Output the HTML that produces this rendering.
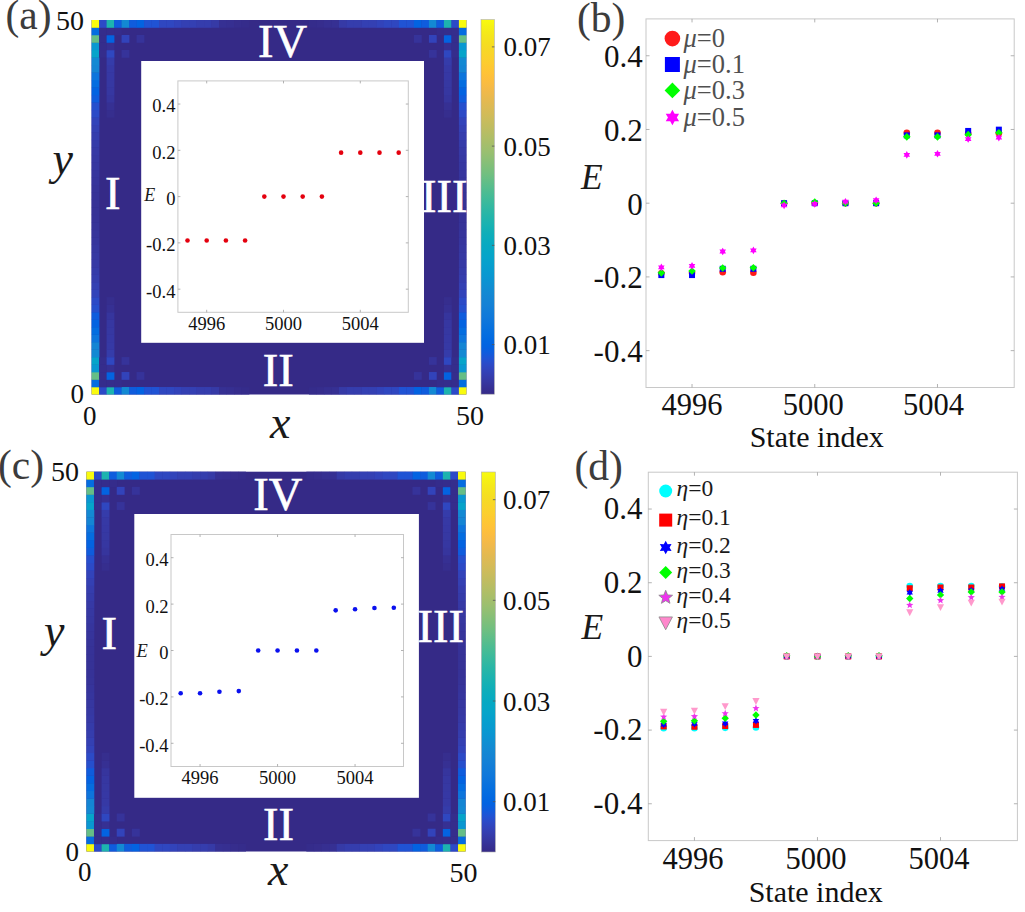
<!DOCTYPE html>
<html><head><meta charset="utf-8"><title>Figure</title>
<style>
html,body{margin:0;padding:0;background:#fff;}
body{width:1025px;height:912px;overflow:hidden;}
svg{display:block;}
text{font-family:"Liberation Serif",serif;}
.tk{fill:#111;}
.it{fill:#1a1a1a;font-style:italic;}
.wt{fill:#fff;stroke:#fff;stroke-width:0.6px;}
.pl{fill:#3c3c3c;}
.lg{fill:#505050;}
.lg2{fill:#1a1a1a;}
</style></head>
<body>
<svg width="1025" height="912" viewBox="0 0 1025 912">
<rect width="1025" height="912" fill="#fff"/>
<rect x="91.60" y="20.00" width="374.80" height="374.50" fill="#352a87"/>
<rect x="91.60" y="387.01" width="7.80" height="7.49" fill="#f9fb0e"/>
<rect x="99.10" y="387.01" width="7.80" height="7.49" fill="#2c4ac7"/>
<rect x="106.59" y="387.01" width="7.80" height="7.49" fill="#1db3af"/>
<rect x="114.09" y="387.01" width="7.80" height="7.49" fill="#0f5cdd"/>
<rect x="121.58" y="387.01" width="7.80" height="7.49" fill="#1389d3"/>
<rect x="129.08" y="387.01" width="7.80" height="7.49" fill="#0f5cdd"/>
<rect x="136.58" y="387.01" width="7.80" height="7.49" fill="#0363e1"/>
<rect x="144.07" y="387.01" width="7.80" height="7.49" fill="#2053d4"/>
<rect x="151.57" y="387.01" width="7.80" height="7.49" fill="#2053d4"/>
<rect x="159.06" y="387.01" width="7.80" height="7.49" fill="#2f47c0"/>
<rect x="166.56" y="387.01" width="7.80" height="7.49" fill="#2f47c0"/>
<rect x="174.06" y="387.01" width="7.80" height="7.49" fill="#3243ba"/>
<rect x="181.55" y="387.01" width="7.80" height="7.49" fill="#3440b3"/>
<rect x="189.05" y="387.01" width="7.80" height="7.49" fill="#3440b3"/>
<rect x="196.54" y="387.01" width="7.80" height="7.49" fill="#353dad"/>
<rect x="204.04" y="387.01" width="7.80" height="7.49" fill="#353dad"/>
<rect x="211.54" y="387.01" width="7.80" height="7.49" fill="#363aa6"/>
<rect x="219.03" y="387.01" width="7.80" height="7.49" fill="#363093"/>
<rect x="226.53" y="387.01" width="7.80" height="7.49" fill="#362f91"/>
<rect x="234.02" y="387.01" width="7.80" height="7.49" fill="#362d8d"/>
<rect x="241.52" y="387.01" width="7.80" height="7.49" fill="#352c8b"/>
<rect x="308.98" y="387.01" width="7.80" height="7.49" fill="#352c8b"/>
<rect x="316.48" y="387.01" width="7.80" height="7.49" fill="#362d8d"/>
<rect x="323.98" y="387.01" width="7.80" height="7.49" fill="#362f91"/>
<rect x="331.47" y="387.01" width="7.80" height="7.49" fill="#363093"/>
<rect x="338.97" y="387.01" width="7.80" height="7.49" fill="#363aa6"/>
<rect x="346.46" y="387.01" width="7.80" height="7.49" fill="#353dad"/>
<rect x="353.96" y="387.01" width="7.80" height="7.49" fill="#353dad"/>
<rect x="361.46" y="387.01" width="7.80" height="7.49" fill="#3440b3"/>
<rect x="368.95" y="387.01" width="7.80" height="7.49" fill="#3440b3"/>
<rect x="376.45" y="387.01" width="7.80" height="7.49" fill="#3243ba"/>
<rect x="383.94" y="387.01" width="7.80" height="7.49" fill="#2f47c0"/>
<rect x="391.44" y="387.01" width="7.80" height="7.49" fill="#2f47c0"/>
<rect x="398.94" y="387.01" width="7.80" height="7.49" fill="#2053d4"/>
<rect x="406.43" y="387.01" width="7.80" height="7.49" fill="#2053d4"/>
<rect x="413.93" y="387.01" width="7.80" height="7.49" fill="#0363e1"/>
<rect x="421.42" y="387.01" width="7.80" height="7.49" fill="#0f5cdd"/>
<rect x="428.92" y="387.01" width="7.80" height="7.49" fill="#1389d3"/>
<rect x="436.42" y="387.01" width="7.80" height="7.49" fill="#0f5cdd"/>
<rect x="443.91" y="387.01" width="7.80" height="7.49" fill="#1db3af"/>
<rect x="451.41" y="387.01" width="7.80" height="7.49" fill="#2c4ac7"/>
<rect x="458.90" y="387.01" width="7.50" height="7.49" fill="#f9fb0e"/>
<rect x="91.60" y="379.52" width="7.80" height="7.79" fill="#046de0"/>
<rect x="99.10" y="379.52" width="7.80" height="7.79" fill="#352d8c"/>
<rect x="106.59" y="379.52" width="7.80" height="7.79" fill="#352d8c"/>
<rect x="114.09" y="379.52" width="7.80" height="7.79" fill="#352c8b"/>
<rect x="436.42" y="379.52" width="7.80" height="7.79" fill="#352c8b"/>
<rect x="443.91" y="379.52" width="7.80" height="7.79" fill="#352d8c"/>
<rect x="451.41" y="379.52" width="7.80" height="7.79" fill="#352d8c"/>
<rect x="458.90" y="379.52" width="7.50" height="7.79" fill="#046de0"/>
<rect x="91.60" y="372.03" width="7.80" height="7.79" fill="#65be86"/>
<rect x="99.10" y="372.03" width="7.80" height="7.79" fill="#352d8c"/>
<rect x="106.59" y="372.03" width="7.80" height="7.79" fill="#0363e1"/>
<rect x="121.58" y="372.03" width="7.80" height="7.79" fill="#3243ba"/>
<rect x="136.58" y="372.03" width="7.80" height="7.79" fill="#36339a"/>
<rect x="413.93" y="372.03" width="7.80" height="7.79" fill="#36339a"/>
<rect x="428.92" y="372.03" width="7.80" height="7.79" fill="#3243ba"/>
<rect x="443.91" y="372.03" width="7.80" height="7.79" fill="#0363e1"/>
<rect x="451.41" y="372.03" width="7.80" height="7.79" fill="#352d8c"/>
<rect x="458.90" y="372.03" width="7.50" height="7.79" fill="#65be86"/>
<rect x="91.60" y="364.54" width="7.80" height="7.79" fill="#0998d1"/>
<rect x="99.10" y="364.54" width="7.80" height="7.79" fill="#352d8c"/>
<rect x="106.59" y="364.54" width="7.80" height="7.79" fill="#363093"/>
<rect x="443.91" y="364.54" width="7.80" height="7.79" fill="#363093"/>
<rect x="451.41" y="364.54" width="7.80" height="7.79" fill="#352d8c"/>
<rect x="458.90" y="364.54" width="7.50" height="7.79" fill="#0998d1"/>
<rect x="91.60" y="357.05" width="7.80" height="7.79" fill="#06a4ca"/>
<rect x="99.10" y="357.05" width="7.80" height="7.79" fill="#352d8c"/>
<rect x="106.59" y="357.05" width="7.80" height="7.79" fill="#2f47c0"/>
<rect x="121.58" y="357.05" width="7.80" height="7.79" fill="#36339a"/>
<rect x="428.92" y="357.05" width="7.80" height="7.79" fill="#36339a"/>
<rect x="443.91" y="357.05" width="7.80" height="7.79" fill="#2f47c0"/>
<rect x="451.41" y="357.05" width="7.80" height="7.79" fill="#352d8c"/>
<rect x="458.90" y="357.05" width="7.50" height="7.79" fill="#06a4ca"/>
<rect x="91.60" y="349.56" width="7.80" height="7.79" fill="#1389d3"/>
<rect x="106.59" y="349.56" width="7.80" height="7.79" fill="#353caa"/>
<rect x="443.91" y="349.56" width="7.80" height="7.79" fill="#353caa"/>
<rect x="458.90" y="349.56" width="7.50" height="7.79" fill="#1389d3"/>
<rect x="91.60" y="342.07" width="7.80" height="7.79" fill="#1485d4"/>
<rect x="106.59" y="342.07" width="7.80" height="7.79" fill="#3639a5"/>
<rect x="443.91" y="342.07" width="7.80" height="7.79" fill="#3639a5"/>
<rect x="458.90" y="342.07" width="7.50" height="7.79" fill="#1485d4"/>
<rect x="91.60" y="334.58" width="7.80" height="7.79" fill="#0d75dc"/>
<rect x="106.59" y="334.58" width="7.80" height="7.79" fill="#3638a4"/>
<rect x="443.91" y="334.58" width="7.80" height="7.79" fill="#3638a4"/>
<rect x="458.90" y="334.58" width="7.50" height="7.79" fill="#0d75dc"/>
<rect x="91.60" y="327.09" width="7.80" height="7.79" fill="#046de0"/>
<rect x="106.59" y="327.09" width="7.80" height="7.79" fill="#3638a2"/>
<rect x="443.91" y="327.09" width="7.80" height="7.79" fill="#3638a2"/>
<rect x="458.90" y="327.09" width="7.50" height="7.79" fill="#046de0"/>
<rect x="91.60" y="319.60" width="7.80" height="7.79" fill="#0363e1"/>
<rect x="106.59" y="319.60" width="7.80" height="7.79" fill="#3637a1"/>
<rect x="443.91" y="319.60" width="7.80" height="7.79" fill="#3637a1"/>
<rect x="458.90" y="319.60" width="7.50" height="7.79" fill="#0363e1"/>
<rect x="91.60" y="312.11" width="7.80" height="7.79" fill="#0f5cdd"/>
<rect x="106.59" y="312.11" width="7.80" height="7.79" fill="#36359d"/>
<rect x="443.91" y="312.11" width="7.80" height="7.79" fill="#36359d"/>
<rect x="458.90" y="312.11" width="7.50" height="7.79" fill="#0f5cdd"/>
<rect x="91.60" y="304.62" width="7.80" height="7.79" fill="#264fcd"/>
<rect x="106.59" y="304.62" width="7.80" height="7.79" fill="#363093"/>
<rect x="443.91" y="304.62" width="7.80" height="7.79" fill="#363093"/>
<rect x="458.90" y="304.62" width="7.50" height="7.79" fill="#264fcd"/>
<rect x="91.60" y="297.13" width="7.80" height="7.79" fill="#2c4ac7"/>
<rect x="106.59" y="297.13" width="7.80" height="7.79" fill="#362e8e"/>
<rect x="443.91" y="297.13" width="7.80" height="7.79" fill="#362e8e"/>
<rect x="458.90" y="297.13" width="7.50" height="7.79" fill="#2c4ac7"/>
<rect x="91.60" y="289.64" width="7.80" height="7.79" fill="#3243ba"/>
<rect x="458.90" y="289.64" width="7.50" height="7.79" fill="#3243ba"/>
<rect x="91.60" y="282.15" width="7.80" height="7.79" fill="#3440b3"/>
<rect x="458.90" y="282.15" width="7.50" height="7.79" fill="#3440b3"/>
<rect x="91.60" y="274.66" width="7.80" height="7.79" fill="#353dad"/>
<rect x="458.90" y="274.66" width="7.50" height="7.79" fill="#353dad"/>
<rect x="91.60" y="267.17" width="7.80" height="7.79" fill="#353ba9"/>
<rect x="458.90" y="267.17" width="7.50" height="7.79" fill="#353ba9"/>
<rect x="91.60" y="259.68" width="7.80" height="7.79" fill="#3639a5"/>
<rect x="458.90" y="259.68" width="7.50" height="7.79" fill="#3639a5"/>
<rect x="91.60" y="252.19" width="7.80" height="7.79" fill="#3638a2"/>
<rect x="458.90" y="252.19" width="7.50" height="7.79" fill="#3638a2"/>
<rect x="91.60" y="244.70" width="7.80" height="7.79" fill="#3637a0"/>
<rect x="458.90" y="244.70" width="7.50" height="7.79" fill="#3637a0"/>
<rect x="91.60" y="237.21" width="7.80" height="7.79" fill="#36359d"/>
<rect x="458.90" y="237.21" width="7.50" height="7.79" fill="#36359d"/>
<rect x="91.60" y="229.72" width="7.80" height="7.79" fill="#36349b"/>
<rect x="458.90" y="229.72" width="7.50" height="7.79" fill="#36349b"/>
<rect x="91.60" y="222.23" width="7.80" height="7.79" fill="#363398"/>
<rect x="458.90" y="222.23" width="7.50" height="7.79" fill="#363398"/>
<rect x="91.60" y="214.74" width="7.80" height="7.79" fill="#363297"/>
<rect x="458.90" y="214.74" width="7.50" height="7.79" fill="#363297"/>
<rect x="91.60" y="207.25" width="7.80" height="7.79" fill="#363296"/>
<rect x="458.90" y="207.25" width="7.50" height="7.79" fill="#363296"/>
<rect x="91.60" y="199.76" width="7.80" height="7.79" fill="#363296"/>
<rect x="458.90" y="199.76" width="7.50" height="7.79" fill="#363296"/>
<rect x="91.60" y="192.27" width="7.80" height="7.79" fill="#363297"/>
<rect x="458.90" y="192.27" width="7.50" height="7.79" fill="#363297"/>
<rect x="91.60" y="184.78" width="7.80" height="7.79" fill="#363398"/>
<rect x="458.90" y="184.78" width="7.50" height="7.79" fill="#363398"/>
<rect x="91.60" y="177.29" width="7.80" height="7.79" fill="#36349b"/>
<rect x="458.90" y="177.29" width="7.50" height="7.79" fill="#36349b"/>
<rect x="91.60" y="169.80" width="7.80" height="7.79" fill="#36359d"/>
<rect x="458.90" y="169.80" width="7.50" height="7.79" fill="#36359d"/>
<rect x="91.60" y="162.31" width="7.80" height="7.79" fill="#3637a0"/>
<rect x="458.90" y="162.31" width="7.50" height="7.79" fill="#3637a0"/>
<rect x="91.60" y="154.82" width="7.80" height="7.79" fill="#3638a2"/>
<rect x="458.90" y="154.82" width="7.50" height="7.79" fill="#3638a2"/>
<rect x="91.60" y="147.33" width="7.80" height="7.79" fill="#3639a5"/>
<rect x="458.90" y="147.33" width="7.50" height="7.79" fill="#3639a5"/>
<rect x="91.60" y="139.84" width="7.80" height="7.79" fill="#353ba9"/>
<rect x="458.90" y="139.84" width="7.50" height="7.79" fill="#353ba9"/>
<rect x="91.60" y="132.35" width="7.80" height="7.79" fill="#353dad"/>
<rect x="458.90" y="132.35" width="7.50" height="7.79" fill="#353dad"/>
<rect x="91.60" y="124.86" width="7.80" height="7.79" fill="#3440b3"/>
<rect x="458.90" y="124.86" width="7.50" height="7.79" fill="#3440b3"/>
<rect x="91.60" y="117.37" width="7.80" height="7.79" fill="#3243ba"/>
<rect x="458.90" y="117.37" width="7.50" height="7.79" fill="#3243ba"/>
<rect x="91.60" y="109.88" width="7.80" height="7.79" fill="#2c4ac7"/>
<rect x="106.59" y="109.88" width="7.80" height="7.79" fill="#362e8e"/>
<rect x="443.91" y="109.88" width="7.80" height="7.79" fill="#362e8e"/>
<rect x="458.90" y="109.88" width="7.50" height="7.79" fill="#2c4ac7"/>
<rect x="91.60" y="102.39" width="7.80" height="7.79" fill="#264fcd"/>
<rect x="106.59" y="102.39" width="7.80" height="7.79" fill="#363093"/>
<rect x="443.91" y="102.39" width="7.80" height="7.79" fill="#363093"/>
<rect x="458.90" y="102.39" width="7.50" height="7.79" fill="#264fcd"/>
<rect x="91.60" y="94.90" width="7.80" height="7.79" fill="#0f5cdd"/>
<rect x="106.59" y="94.90" width="7.80" height="7.79" fill="#36359d"/>
<rect x="443.91" y="94.90" width="7.80" height="7.79" fill="#36359d"/>
<rect x="458.90" y="94.90" width="7.50" height="7.79" fill="#0f5cdd"/>
<rect x="91.60" y="87.41" width="7.80" height="7.79" fill="#0363e1"/>
<rect x="106.59" y="87.41" width="7.80" height="7.79" fill="#3637a1"/>
<rect x="443.91" y="87.41" width="7.80" height="7.79" fill="#3637a1"/>
<rect x="458.90" y="87.41" width="7.50" height="7.79" fill="#0363e1"/>
<rect x="91.60" y="79.92" width="7.80" height="7.79" fill="#046de0"/>
<rect x="106.59" y="79.92" width="7.80" height="7.79" fill="#3638a2"/>
<rect x="443.91" y="79.92" width="7.80" height="7.79" fill="#3638a2"/>
<rect x="458.90" y="79.92" width="7.50" height="7.79" fill="#046de0"/>
<rect x="91.60" y="72.43" width="7.80" height="7.79" fill="#0d75dc"/>
<rect x="106.59" y="72.43" width="7.80" height="7.79" fill="#3638a4"/>
<rect x="443.91" y="72.43" width="7.80" height="7.79" fill="#3638a4"/>
<rect x="458.90" y="72.43" width="7.50" height="7.79" fill="#0d75dc"/>
<rect x="91.60" y="64.94" width="7.80" height="7.79" fill="#1485d4"/>
<rect x="106.59" y="64.94" width="7.80" height="7.79" fill="#3639a5"/>
<rect x="443.91" y="64.94" width="7.80" height="7.79" fill="#3639a5"/>
<rect x="458.90" y="64.94" width="7.50" height="7.79" fill="#1485d4"/>
<rect x="91.60" y="57.45" width="7.80" height="7.79" fill="#1389d3"/>
<rect x="106.59" y="57.45" width="7.80" height="7.79" fill="#353caa"/>
<rect x="443.91" y="57.45" width="7.80" height="7.79" fill="#353caa"/>
<rect x="458.90" y="57.45" width="7.50" height="7.79" fill="#1389d3"/>
<rect x="91.60" y="49.96" width="7.80" height="7.79" fill="#06a4ca"/>
<rect x="99.10" y="49.96" width="7.80" height="7.79" fill="#352d8c"/>
<rect x="106.59" y="49.96" width="7.80" height="7.79" fill="#2f47c0"/>
<rect x="121.58" y="49.96" width="7.80" height="7.79" fill="#36339a"/>
<rect x="428.92" y="49.96" width="7.80" height="7.79" fill="#36339a"/>
<rect x="443.91" y="49.96" width="7.80" height="7.79" fill="#2f47c0"/>
<rect x="451.41" y="49.96" width="7.80" height="7.79" fill="#352d8c"/>
<rect x="458.90" y="49.96" width="7.50" height="7.79" fill="#06a4ca"/>
<rect x="91.60" y="42.47" width="7.80" height="7.79" fill="#0998d1"/>
<rect x="99.10" y="42.47" width="7.80" height="7.79" fill="#352d8c"/>
<rect x="106.59" y="42.47" width="7.80" height="7.79" fill="#363093"/>
<rect x="443.91" y="42.47" width="7.80" height="7.79" fill="#363093"/>
<rect x="451.41" y="42.47" width="7.80" height="7.79" fill="#352d8c"/>
<rect x="458.90" y="42.47" width="7.50" height="7.79" fill="#0998d1"/>
<rect x="91.60" y="34.98" width="7.80" height="7.79" fill="#65be86"/>
<rect x="99.10" y="34.98" width="7.80" height="7.79" fill="#352d8c"/>
<rect x="106.59" y="34.98" width="7.80" height="7.79" fill="#0363e1"/>
<rect x="121.58" y="34.98" width="7.80" height="7.79" fill="#3243ba"/>
<rect x="136.58" y="34.98" width="7.80" height="7.79" fill="#36339a"/>
<rect x="413.93" y="34.98" width="7.80" height="7.79" fill="#36339a"/>
<rect x="428.92" y="34.98" width="7.80" height="7.79" fill="#3243ba"/>
<rect x="443.91" y="34.98" width="7.80" height="7.79" fill="#0363e1"/>
<rect x="451.41" y="34.98" width="7.80" height="7.79" fill="#352d8c"/>
<rect x="458.90" y="34.98" width="7.50" height="7.79" fill="#65be86"/>
<rect x="91.60" y="27.49" width="7.80" height="7.79" fill="#046de0"/>
<rect x="99.10" y="27.49" width="7.80" height="7.79" fill="#352d8c"/>
<rect x="106.59" y="27.49" width="7.80" height="7.79" fill="#352d8c"/>
<rect x="114.09" y="27.49" width="7.80" height="7.79" fill="#352c8b"/>
<rect x="436.42" y="27.49" width="7.80" height="7.79" fill="#352c8b"/>
<rect x="443.91" y="27.49" width="7.80" height="7.79" fill="#352d8c"/>
<rect x="451.41" y="27.49" width="7.80" height="7.79" fill="#352d8c"/>
<rect x="458.90" y="27.49" width="7.50" height="7.79" fill="#046de0"/>
<rect x="91.60" y="20.00" width="7.80" height="7.79" fill="#f9fb0e"/>
<rect x="99.10" y="20.00" width="7.80" height="7.79" fill="#2c4ac7"/>
<rect x="106.59" y="20.00" width="7.80" height="7.79" fill="#1db3af"/>
<rect x="114.09" y="20.00" width="7.80" height="7.79" fill="#0f5cdd"/>
<rect x="121.58" y="20.00" width="7.80" height="7.79" fill="#1389d3"/>
<rect x="129.08" y="20.00" width="7.80" height="7.79" fill="#0f5cdd"/>
<rect x="136.58" y="20.00" width="7.80" height="7.79" fill="#0363e1"/>
<rect x="144.07" y="20.00" width="7.80" height="7.79" fill="#2053d4"/>
<rect x="151.57" y="20.00" width="7.80" height="7.79" fill="#2053d4"/>
<rect x="159.06" y="20.00" width="7.80" height="7.79" fill="#2f47c0"/>
<rect x="166.56" y="20.00" width="7.80" height="7.79" fill="#2f47c0"/>
<rect x="174.06" y="20.00" width="7.80" height="7.79" fill="#3243ba"/>
<rect x="181.55" y="20.00" width="7.80" height="7.79" fill="#3440b3"/>
<rect x="189.05" y="20.00" width="7.80" height="7.79" fill="#3440b3"/>
<rect x="196.54" y="20.00" width="7.80" height="7.79" fill="#353dad"/>
<rect x="204.04" y="20.00" width="7.80" height="7.79" fill="#353dad"/>
<rect x="211.54" y="20.00" width="7.80" height="7.79" fill="#363aa6"/>
<rect x="219.03" y="20.00" width="7.80" height="7.79" fill="#363093"/>
<rect x="226.53" y="20.00" width="7.80" height="7.79" fill="#362f91"/>
<rect x="234.02" y="20.00" width="7.80" height="7.79" fill="#362d8d"/>
<rect x="241.52" y="20.00" width="7.80" height="7.79" fill="#352c8b"/>
<rect x="308.98" y="20.00" width="7.80" height="7.79" fill="#352c8b"/>
<rect x="316.48" y="20.00" width="7.80" height="7.79" fill="#362d8d"/>
<rect x="323.98" y="20.00" width="7.80" height="7.79" fill="#362f91"/>
<rect x="331.47" y="20.00" width="7.80" height="7.79" fill="#363093"/>
<rect x="338.97" y="20.00" width="7.80" height="7.79" fill="#363aa6"/>
<rect x="346.46" y="20.00" width="7.80" height="7.79" fill="#353dad"/>
<rect x="353.96" y="20.00" width="7.80" height="7.79" fill="#353dad"/>
<rect x="361.46" y="20.00" width="7.80" height="7.79" fill="#3440b3"/>
<rect x="368.95" y="20.00" width="7.80" height="7.79" fill="#3440b3"/>
<rect x="376.45" y="20.00" width="7.80" height="7.79" fill="#3243ba"/>
<rect x="383.94" y="20.00" width="7.80" height="7.79" fill="#2f47c0"/>
<rect x="391.44" y="20.00" width="7.80" height="7.79" fill="#2f47c0"/>
<rect x="398.94" y="20.00" width="7.80" height="7.79" fill="#2053d4"/>
<rect x="406.43" y="20.00" width="7.80" height="7.79" fill="#2053d4"/>
<rect x="413.93" y="20.00" width="7.80" height="7.79" fill="#0363e1"/>
<rect x="421.42" y="20.00" width="7.80" height="7.79" fill="#0f5cdd"/>
<rect x="428.92" y="20.00" width="7.80" height="7.79" fill="#1389d3"/>
<rect x="436.42" y="20.00" width="7.80" height="7.79" fill="#0f5cdd"/>
<rect x="443.91" y="20.00" width="7.80" height="7.79" fill="#1db3af"/>
<rect x="451.41" y="20.00" width="7.80" height="7.79" fill="#2c4ac7"/>
<rect x="458.90" y="20.00" width="7.50" height="7.79" fill="#f9fb0e"/>
<rect x="141.2" y="61.0" width="282.8" height="281.8" fill="#fff"/>
<rect x="177.90" y="80.90" width="230.40" height="231.40" fill="#fff" stroke="#c8c8c8" stroke-width="1"/>
<line x1="206.70" y1="312.30" x2="206.70" y2="309.80" stroke="#a0a0a0" stroke-width="0.8"/>
<line x1="206.70" y1="80.90" x2="206.70" y2="83.40" stroke="#a0a0a0" stroke-width="0.8"/>
<line x1="283.50" y1="312.30" x2="283.50" y2="309.80" stroke="#a0a0a0" stroke-width="0.8"/>
<line x1="283.50" y1="80.90" x2="283.50" y2="83.40" stroke="#a0a0a0" stroke-width="0.8"/>
<line x1="360.30" y1="312.30" x2="360.30" y2="309.80" stroke="#a0a0a0" stroke-width="0.8"/>
<line x1="360.30" y1="80.90" x2="360.30" y2="83.40" stroke="#a0a0a0" stroke-width="0.8"/>
<line x1="177.90" y1="289.16" x2="180.40" y2="289.16" stroke="#a0a0a0" stroke-width="0.8"/>
<line x1="408.30" y1="289.16" x2="405.80" y2="289.16" stroke="#a0a0a0" stroke-width="0.8"/>
<line x1="177.90" y1="242.88" x2="180.40" y2="242.88" stroke="#a0a0a0" stroke-width="0.8"/>
<line x1="408.30" y1="242.88" x2="405.80" y2="242.88" stroke="#a0a0a0" stroke-width="0.8"/>
<line x1="177.90" y1="196.60" x2="180.40" y2="196.60" stroke="#a0a0a0" stroke-width="0.8"/>
<line x1="408.30" y1="196.60" x2="405.80" y2="196.60" stroke="#a0a0a0" stroke-width="0.8"/>
<line x1="177.90" y1="150.32" x2="180.40" y2="150.32" stroke="#a0a0a0" stroke-width="0.8"/>
<line x1="408.30" y1="150.32" x2="405.80" y2="150.32" stroke="#a0a0a0" stroke-width="0.8"/>
<line x1="177.90" y1="104.04" x2="180.40" y2="104.04" stroke="#a0a0a0" stroke-width="0.8"/>
<line x1="408.30" y1="104.04" x2="405.80" y2="104.04" stroke="#a0a0a0" stroke-width="0.8"/>
<text x="175.40" y="112.44" class="tk" font-size="18.5" text-anchor="end">0.4</text>
<text x="175.40" y="158.72" class="tk" font-size="18.5" text-anchor="end">0.2</text>
<text x="175.40" y="205.00" class="tk" font-size="18.5" text-anchor="end">0</text>
<text x="175.40" y="251.28" class="tk" font-size="18.5" text-anchor="end">-0.2</text>
<text x="175.40" y="297.56" class="tk" font-size="18.5" text-anchor="end">-0.4</text>
<text x="206.70" y="329.50" class="tk" font-size="18.5" text-anchor="middle">4996</text>
<text x="283.50" y="329.50" class="tk" font-size="18.5" text-anchor="middle">5000</text>
<text x="360.30" y="329.50" class="tk" font-size="18.5" text-anchor="middle">5004</text>
<text x="144.3" y="200.6" class="it" font-size="18">E</text>
<circle cx="187.50" cy="240.57" r="2.30" fill="#e4000e"/>
<circle cx="206.70" cy="240.57" r="2.30" fill="#e4000e"/>
<circle cx="225.90" cy="240.57" r="2.30" fill="#e4000e"/>
<circle cx="245.10" cy="240.57" r="2.30" fill="#e4000e"/>
<circle cx="264.30" cy="196.60" r="2.30" fill="#e4000e"/>
<circle cx="283.50" cy="196.60" r="2.30" fill="#e4000e"/>
<circle cx="302.70" cy="196.60" r="2.30" fill="#e4000e"/>
<circle cx="321.90" cy="196.60" r="2.30" fill="#e4000e"/>
<circle cx="341.10" cy="152.63" r="2.30" fill="#e4000e"/>
<circle cx="360.30" cy="152.63" r="2.30" fill="#e4000e"/>
<circle cx="379.50" cy="152.63" r="2.30" fill="#e4000e"/>
<circle cx="398.70" cy="152.63" r="2.30" fill="#e4000e"/>
<defs><linearGradient id="cba" x1="0" y1="0" x2="0" y2="1"><stop offset="0.0000" stop-color="#f9fb0e"/><stop offset="0.0159" stop-color="#f6f313"/><stop offset="0.0317" stop-color="#f5eb18"/><stop offset="0.0476" stop-color="#f5e41d"/><stop offset="0.0635" stop-color="#f5de21"/><stop offset="0.0794" stop-color="#f7d826"/><stop offset="0.0952" stop-color="#fad32a"/><stop offset="0.1111" stop-color="#fcce2e"/><stop offset="0.1270" stop-color="#fec832"/><stop offset="0.1429" stop-color="#ffc337"/><stop offset="0.1587" stop-color="#fdbe3d"/><stop offset="0.1746" stop-color="#f8bb44"/><stop offset="0.1905" stop-color="#f1b94a"/><stop offset="0.2063" stop-color="#e9b94e"/><stop offset="0.2222" stop-color="#e1b952"/><stop offset="0.2381" stop-color="#d9ba56"/><stop offset="0.2540" stop-color="#d1bb59"/><stop offset="0.2698" stop-color="#c8bc5d"/><stop offset="0.2857" stop-color="#c0bc60"/><stop offset="0.3016" stop-color="#b7bd64"/><stop offset="0.3175" stop-color="#aebe67"/><stop offset="0.3333" stop-color="#a5be6b"/><stop offset="0.3492" stop-color="#9cbf6f"/><stop offset="0.3651" stop-color="#92bf73"/><stop offset="0.3810" stop-color="#87bf77"/><stop offset="0.3968" stop-color="#7cbf7b"/><stop offset="0.4127" stop-color="#71bf80"/><stop offset="0.4286" stop-color="#65be86"/><stop offset="0.4444" stop-color="#59bd8c"/><stop offset="0.4603" stop-color="#4dbc92"/><stop offset="0.4762" stop-color="#42bb98"/><stop offset="0.4921" stop-color="#38b99e"/><stop offset="0.5079" stop-color="#2eb7a4"/><stop offset="0.5238" stop-color="#25b5a9"/><stop offset="0.5397" stop-color="#1db3af"/><stop offset="0.5556" stop-color="#15b1b4"/><stop offset="0.5714" stop-color="#0faeb9"/><stop offset="0.5873" stop-color="#0aacbe"/><stop offset="0.6032" stop-color="#07a9c2"/><stop offset="0.6190" stop-color="#06a7c6"/><stop offset="0.6349" stop-color="#06a4ca"/><stop offset="0.6508" stop-color="#06a0cd"/><stop offset="0.6667" stop-color="#079ccf"/><stop offset="0.6825" stop-color="#0998d1"/><stop offset="0.6984" stop-color="#0c93d2"/><stop offset="0.7143" stop-color="#108ed2"/><stop offset="0.7302" stop-color="#1389d3"/><stop offset="0.7460" stop-color="#1485d4"/><stop offset="0.7619" stop-color="#1481d6"/><stop offset="0.7778" stop-color="#127dd8"/><stop offset="0.7937" stop-color="#1079da"/><stop offset="0.8095" stop-color="#0d75dc"/><stop offset="0.8254" stop-color="#0871de"/><stop offset="0.8413" stop-color="#046de0"/><stop offset="0.8571" stop-color="#0268e1"/><stop offset="0.8730" stop-color="#0363e1"/><stop offset="0.8889" stop-color="#0f5cdd"/><stop offset="0.9048" stop-color="#2053d4"/><stop offset="0.9206" stop-color="#2c4ac7"/><stop offset="0.9365" stop-color="#3243ba"/><stop offset="0.9524" stop-color="#353dad"/><stop offset="0.9683" stop-color="#3637a0"/><stop offset="0.9841" stop-color="#363093"/><stop offset="1.0000" stop-color="#352a87"/></linearGradient></defs>
<rect x="481.00" y="19.60" width="13.40" height="374.60" fill="url(#cba)" stroke="#b0b0b0" stroke-width="0.6"/>
<line x1="491.90" y1="344.58" x2="494.40" y2="344.58" stroke="#555" stroke-width="0.8"/>
<text x="503.50" y="354.18" class="tk" font-size="27">0.01</text>
<line x1="491.90" y1="245.35" x2="494.40" y2="245.35" stroke="#555" stroke-width="0.8"/>
<text x="503.50" y="254.95" class="tk" font-size="27">0.03</text>
<line x1="491.90" y1="146.12" x2="494.40" y2="146.12" stroke="#555" stroke-width="0.8"/>
<text x="503.50" y="155.72" class="tk" font-size="27">0.05</text>
<line x1="491.90" y1="46.89" x2="494.40" y2="46.89" stroke="#555" stroke-width="0.8"/>
<text x="503.50" y="56.49" class="tk" font-size="27">0.07</text>
<text x="258" y="57" class="wt" font-size="46.5">IV</text>
<text x="105" y="209.3" class="wt" font-size="46.5">I</text>
<text x="421" y="211.6" class="wt" font-size="46.5">III</text>
<text x="262.8" y="385.8" class="wt" font-size="46.5">II</text>
<text x="5.5" y="28.5" class="pl" font-size="41.5">(a)</text>
<text x="56" y="30.2" class="tk" font-size="28">50</text>
<text x="70.5" y="403" class="tk" font-size="27">0</text>
<text x="83" y="425" class="tk" font-size="27">0</text>
<text x="456" y="425.3" class="tk" font-size="28">50</text>
<text x="52.5" y="174" class="it" font-size="46">y</text>
<text x="270" y="438" class="it" font-size="46">x</text>
<rect x="86.40" y="471.70" width="379.20" height="379.80" fill="#352a87"/>
<rect x="86.40" y="843.90" width="7.88" height="7.60" fill="#f9fb0e"/>
<rect x="93.98" y="843.90" width="7.88" height="7.60" fill="#2c4ac7"/>
<rect x="101.57" y="843.90" width="7.88" height="7.60" fill="#1db3af"/>
<rect x="109.15" y="843.90" width="7.88" height="7.60" fill="#0f5cdd"/>
<rect x="116.74" y="843.90" width="7.88" height="7.60" fill="#1389d3"/>
<rect x="124.32" y="843.90" width="7.88" height="7.60" fill="#0f5cdd"/>
<rect x="131.90" y="843.90" width="7.88" height="7.60" fill="#0363e1"/>
<rect x="139.49" y="843.90" width="7.88" height="7.60" fill="#2053d4"/>
<rect x="147.07" y="843.90" width="7.88" height="7.60" fill="#2053d4"/>
<rect x="154.66" y="843.90" width="7.88" height="7.60" fill="#2f47c0"/>
<rect x="162.24" y="843.90" width="7.88" height="7.60" fill="#2f47c0"/>
<rect x="169.82" y="843.90" width="7.88" height="7.60" fill="#3243ba"/>
<rect x="177.41" y="843.90" width="7.88" height="7.60" fill="#3440b3"/>
<rect x="184.99" y="843.90" width="7.88" height="7.60" fill="#3440b3"/>
<rect x="192.58" y="843.90" width="7.88" height="7.60" fill="#353dad"/>
<rect x="200.16" y="843.90" width="7.88" height="7.60" fill="#353dad"/>
<rect x="207.74" y="843.90" width="7.88" height="7.60" fill="#363aa6"/>
<rect x="215.33" y="843.90" width="7.88" height="7.60" fill="#363093"/>
<rect x="222.91" y="843.90" width="7.88" height="7.60" fill="#362f91"/>
<rect x="230.50" y="843.90" width="7.88" height="7.60" fill="#362d8d"/>
<rect x="238.08" y="843.90" width="7.88" height="7.60" fill="#352c8b"/>
<rect x="306.34" y="843.90" width="7.88" height="7.60" fill="#352c8b"/>
<rect x="313.92" y="843.90" width="7.88" height="7.60" fill="#362d8d"/>
<rect x="321.50" y="843.90" width="7.88" height="7.60" fill="#362f91"/>
<rect x="329.09" y="843.90" width="7.88" height="7.60" fill="#363093"/>
<rect x="336.67" y="843.90" width="7.88" height="7.60" fill="#363aa6"/>
<rect x="344.26" y="843.90" width="7.88" height="7.60" fill="#353dad"/>
<rect x="351.84" y="843.90" width="7.88" height="7.60" fill="#353dad"/>
<rect x="359.42" y="843.90" width="7.88" height="7.60" fill="#3440b3"/>
<rect x="367.01" y="843.90" width="7.88" height="7.60" fill="#3440b3"/>
<rect x="374.59" y="843.90" width="7.88" height="7.60" fill="#3243ba"/>
<rect x="382.18" y="843.90" width="7.88" height="7.60" fill="#2f47c0"/>
<rect x="389.76" y="843.90" width="7.88" height="7.60" fill="#2f47c0"/>
<rect x="397.34" y="843.90" width="7.88" height="7.60" fill="#2053d4"/>
<rect x="404.93" y="843.90" width="7.88" height="7.60" fill="#2053d4"/>
<rect x="412.51" y="843.90" width="7.88" height="7.60" fill="#0363e1"/>
<rect x="420.10" y="843.90" width="7.88" height="7.60" fill="#0f5cdd"/>
<rect x="427.68" y="843.90" width="7.88" height="7.60" fill="#1389d3"/>
<rect x="435.26" y="843.90" width="7.88" height="7.60" fill="#0f5cdd"/>
<rect x="442.85" y="843.90" width="7.88" height="7.60" fill="#1db3af"/>
<rect x="450.43" y="843.90" width="7.88" height="7.60" fill="#2c4ac7"/>
<rect x="458.02" y="843.90" width="7.58" height="7.60" fill="#f9fb0e"/>
<rect x="86.40" y="836.31" width="7.88" height="7.90" fill="#046de0"/>
<rect x="93.98" y="836.31" width="7.88" height="7.90" fill="#352d8c"/>
<rect x="101.57" y="836.31" width="7.88" height="7.90" fill="#352d8c"/>
<rect x="109.15" y="836.31" width="7.88" height="7.90" fill="#352c8b"/>
<rect x="435.26" y="836.31" width="7.88" height="7.90" fill="#352c8b"/>
<rect x="442.85" y="836.31" width="7.88" height="7.90" fill="#352d8c"/>
<rect x="450.43" y="836.31" width="7.88" height="7.90" fill="#352d8c"/>
<rect x="458.02" y="836.31" width="7.58" height="7.90" fill="#046de0"/>
<rect x="86.40" y="828.71" width="7.88" height="7.90" fill="#65be86"/>
<rect x="93.98" y="828.71" width="7.88" height="7.90" fill="#352d8c"/>
<rect x="101.57" y="828.71" width="7.88" height="7.90" fill="#0363e1"/>
<rect x="116.74" y="828.71" width="7.88" height="7.90" fill="#3243ba"/>
<rect x="131.90" y="828.71" width="7.88" height="7.90" fill="#36339a"/>
<rect x="412.51" y="828.71" width="7.88" height="7.90" fill="#36339a"/>
<rect x="427.68" y="828.71" width="7.88" height="7.90" fill="#3243ba"/>
<rect x="442.85" y="828.71" width="7.88" height="7.90" fill="#0363e1"/>
<rect x="450.43" y="828.71" width="7.88" height="7.90" fill="#352d8c"/>
<rect x="458.02" y="828.71" width="7.58" height="7.90" fill="#65be86"/>
<rect x="86.40" y="821.12" width="7.88" height="7.90" fill="#0998d1"/>
<rect x="93.98" y="821.12" width="7.88" height="7.90" fill="#352d8c"/>
<rect x="101.57" y="821.12" width="7.88" height="7.90" fill="#363093"/>
<rect x="442.85" y="821.12" width="7.88" height="7.90" fill="#363093"/>
<rect x="450.43" y="821.12" width="7.88" height="7.90" fill="#352d8c"/>
<rect x="458.02" y="821.12" width="7.58" height="7.90" fill="#0998d1"/>
<rect x="86.40" y="813.52" width="7.88" height="7.90" fill="#06a4ca"/>
<rect x="93.98" y="813.52" width="7.88" height="7.90" fill="#352d8c"/>
<rect x="101.57" y="813.52" width="7.88" height="7.90" fill="#2f47c0"/>
<rect x="116.74" y="813.52" width="7.88" height="7.90" fill="#36339a"/>
<rect x="427.68" y="813.52" width="7.88" height="7.90" fill="#36339a"/>
<rect x="442.85" y="813.52" width="7.88" height="7.90" fill="#2f47c0"/>
<rect x="450.43" y="813.52" width="7.88" height="7.90" fill="#352d8c"/>
<rect x="458.02" y="813.52" width="7.58" height="7.90" fill="#06a4ca"/>
<rect x="86.40" y="805.92" width="7.88" height="7.90" fill="#1389d3"/>
<rect x="101.57" y="805.92" width="7.88" height="7.90" fill="#353caa"/>
<rect x="442.85" y="805.92" width="7.88" height="7.90" fill="#353caa"/>
<rect x="458.02" y="805.92" width="7.58" height="7.90" fill="#1389d3"/>
<rect x="86.40" y="798.33" width="7.88" height="7.90" fill="#1485d4"/>
<rect x="101.57" y="798.33" width="7.88" height="7.90" fill="#3639a5"/>
<rect x="442.85" y="798.33" width="7.88" height="7.90" fill="#3639a5"/>
<rect x="458.02" y="798.33" width="7.58" height="7.90" fill="#1485d4"/>
<rect x="86.40" y="790.73" width="7.88" height="7.90" fill="#0d75dc"/>
<rect x="101.57" y="790.73" width="7.88" height="7.90" fill="#3638a4"/>
<rect x="442.85" y="790.73" width="7.88" height="7.90" fill="#3638a4"/>
<rect x="458.02" y="790.73" width="7.58" height="7.90" fill="#0d75dc"/>
<rect x="86.40" y="783.14" width="7.88" height="7.90" fill="#046de0"/>
<rect x="101.57" y="783.14" width="7.88" height="7.90" fill="#3638a2"/>
<rect x="442.85" y="783.14" width="7.88" height="7.90" fill="#3638a2"/>
<rect x="458.02" y="783.14" width="7.58" height="7.90" fill="#046de0"/>
<rect x="86.40" y="775.54" width="7.88" height="7.90" fill="#0363e1"/>
<rect x="101.57" y="775.54" width="7.88" height="7.90" fill="#3637a1"/>
<rect x="442.85" y="775.54" width="7.88" height="7.90" fill="#3637a1"/>
<rect x="458.02" y="775.54" width="7.58" height="7.90" fill="#0363e1"/>
<rect x="86.40" y="767.94" width="7.88" height="7.90" fill="#0f5cdd"/>
<rect x="101.57" y="767.94" width="7.88" height="7.90" fill="#36359d"/>
<rect x="442.85" y="767.94" width="7.88" height="7.90" fill="#36359d"/>
<rect x="458.02" y="767.94" width="7.58" height="7.90" fill="#0f5cdd"/>
<rect x="86.40" y="760.35" width="7.88" height="7.90" fill="#264fcd"/>
<rect x="101.57" y="760.35" width="7.88" height="7.90" fill="#363093"/>
<rect x="442.85" y="760.35" width="7.88" height="7.90" fill="#363093"/>
<rect x="458.02" y="760.35" width="7.58" height="7.90" fill="#264fcd"/>
<rect x="86.40" y="752.75" width="7.88" height="7.90" fill="#2c4ac7"/>
<rect x="101.57" y="752.75" width="7.88" height="7.90" fill="#362e8e"/>
<rect x="442.85" y="752.75" width="7.88" height="7.90" fill="#362e8e"/>
<rect x="458.02" y="752.75" width="7.58" height="7.90" fill="#2c4ac7"/>
<rect x="86.40" y="745.16" width="7.88" height="7.90" fill="#3243ba"/>
<rect x="458.02" y="745.16" width="7.58" height="7.90" fill="#3243ba"/>
<rect x="86.40" y="737.56" width="7.88" height="7.90" fill="#3440b3"/>
<rect x="458.02" y="737.56" width="7.58" height="7.90" fill="#3440b3"/>
<rect x="86.40" y="729.96" width="7.88" height="7.90" fill="#353dad"/>
<rect x="458.02" y="729.96" width="7.58" height="7.90" fill="#353dad"/>
<rect x="86.40" y="722.37" width="7.88" height="7.90" fill="#353ba9"/>
<rect x="458.02" y="722.37" width="7.58" height="7.90" fill="#353ba9"/>
<rect x="86.40" y="714.77" width="7.88" height="7.90" fill="#3639a5"/>
<rect x="458.02" y="714.77" width="7.58" height="7.90" fill="#3639a5"/>
<rect x="86.40" y="707.18" width="7.88" height="7.90" fill="#3638a2"/>
<rect x="458.02" y="707.18" width="7.58" height="7.90" fill="#3638a2"/>
<rect x="86.40" y="699.58" width="7.88" height="7.90" fill="#3637a0"/>
<rect x="458.02" y="699.58" width="7.58" height="7.90" fill="#3637a0"/>
<rect x="86.40" y="691.98" width="7.88" height="7.90" fill="#36359d"/>
<rect x="458.02" y="691.98" width="7.58" height="7.90" fill="#36359d"/>
<rect x="86.40" y="684.39" width="7.88" height="7.90" fill="#36349b"/>
<rect x="458.02" y="684.39" width="7.58" height="7.90" fill="#36349b"/>
<rect x="86.40" y="676.79" width="7.88" height="7.90" fill="#363398"/>
<rect x="458.02" y="676.79" width="7.58" height="7.90" fill="#363398"/>
<rect x="86.40" y="669.20" width="7.88" height="7.90" fill="#363297"/>
<rect x="458.02" y="669.20" width="7.58" height="7.90" fill="#363297"/>
<rect x="86.40" y="661.60" width="7.88" height="7.90" fill="#363296"/>
<rect x="458.02" y="661.60" width="7.58" height="7.90" fill="#363296"/>
<rect x="86.40" y="654.00" width="7.88" height="7.90" fill="#363296"/>
<rect x="458.02" y="654.00" width="7.58" height="7.90" fill="#363296"/>
<rect x="86.40" y="646.41" width="7.88" height="7.90" fill="#363297"/>
<rect x="458.02" y="646.41" width="7.58" height="7.90" fill="#363297"/>
<rect x="86.40" y="638.81" width="7.88" height="7.90" fill="#363398"/>
<rect x="458.02" y="638.81" width="7.58" height="7.90" fill="#363398"/>
<rect x="86.40" y="631.22" width="7.88" height="7.90" fill="#36349b"/>
<rect x="458.02" y="631.22" width="7.58" height="7.90" fill="#36349b"/>
<rect x="86.40" y="623.62" width="7.88" height="7.90" fill="#36359d"/>
<rect x="458.02" y="623.62" width="7.58" height="7.90" fill="#36359d"/>
<rect x="86.40" y="616.02" width="7.88" height="7.90" fill="#3637a0"/>
<rect x="458.02" y="616.02" width="7.58" height="7.90" fill="#3637a0"/>
<rect x="86.40" y="608.43" width="7.88" height="7.90" fill="#3638a2"/>
<rect x="458.02" y="608.43" width="7.58" height="7.90" fill="#3638a2"/>
<rect x="86.40" y="600.83" width="7.88" height="7.90" fill="#3639a5"/>
<rect x="458.02" y="600.83" width="7.58" height="7.90" fill="#3639a5"/>
<rect x="86.40" y="593.24" width="7.88" height="7.90" fill="#353ba9"/>
<rect x="458.02" y="593.24" width="7.58" height="7.90" fill="#353ba9"/>
<rect x="86.40" y="585.64" width="7.88" height="7.90" fill="#353dad"/>
<rect x="458.02" y="585.64" width="7.58" height="7.90" fill="#353dad"/>
<rect x="86.40" y="578.04" width="7.88" height="7.90" fill="#3440b3"/>
<rect x="458.02" y="578.04" width="7.58" height="7.90" fill="#3440b3"/>
<rect x="86.40" y="570.45" width="7.88" height="7.90" fill="#3243ba"/>
<rect x="458.02" y="570.45" width="7.58" height="7.90" fill="#3243ba"/>
<rect x="86.40" y="562.85" width="7.88" height="7.90" fill="#2c4ac7"/>
<rect x="101.57" y="562.85" width="7.88" height="7.90" fill="#362e8e"/>
<rect x="442.85" y="562.85" width="7.88" height="7.90" fill="#362e8e"/>
<rect x="458.02" y="562.85" width="7.58" height="7.90" fill="#2c4ac7"/>
<rect x="86.40" y="555.26" width="7.88" height="7.90" fill="#264fcd"/>
<rect x="101.57" y="555.26" width="7.88" height="7.90" fill="#363093"/>
<rect x="442.85" y="555.26" width="7.88" height="7.90" fill="#363093"/>
<rect x="458.02" y="555.26" width="7.58" height="7.90" fill="#264fcd"/>
<rect x="86.40" y="547.66" width="7.88" height="7.90" fill="#0f5cdd"/>
<rect x="101.57" y="547.66" width="7.88" height="7.90" fill="#36359d"/>
<rect x="442.85" y="547.66" width="7.88" height="7.90" fill="#36359d"/>
<rect x="458.02" y="547.66" width="7.58" height="7.90" fill="#0f5cdd"/>
<rect x="86.40" y="540.06" width="7.88" height="7.90" fill="#0363e1"/>
<rect x="101.57" y="540.06" width="7.88" height="7.90" fill="#3637a1"/>
<rect x="442.85" y="540.06" width="7.88" height="7.90" fill="#3637a1"/>
<rect x="458.02" y="540.06" width="7.58" height="7.90" fill="#0363e1"/>
<rect x="86.40" y="532.47" width="7.88" height="7.90" fill="#046de0"/>
<rect x="101.57" y="532.47" width="7.88" height="7.90" fill="#3638a2"/>
<rect x="442.85" y="532.47" width="7.88" height="7.90" fill="#3638a2"/>
<rect x="458.02" y="532.47" width="7.58" height="7.90" fill="#046de0"/>
<rect x="86.40" y="524.87" width="7.88" height="7.90" fill="#0d75dc"/>
<rect x="101.57" y="524.87" width="7.88" height="7.90" fill="#3638a4"/>
<rect x="442.85" y="524.87" width="7.88" height="7.90" fill="#3638a4"/>
<rect x="458.02" y="524.87" width="7.58" height="7.90" fill="#0d75dc"/>
<rect x="86.40" y="517.28" width="7.88" height="7.90" fill="#1485d4"/>
<rect x="101.57" y="517.28" width="7.88" height="7.90" fill="#3639a5"/>
<rect x="442.85" y="517.28" width="7.88" height="7.90" fill="#3639a5"/>
<rect x="458.02" y="517.28" width="7.58" height="7.90" fill="#1485d4"/>
<rect x="86.40" y="509.68" width="7.88" height="7.90" fill="#1389d3"/>
<rect x="101.57" y="509.68" width="7.88" height="7.90" fill="#353caa"/>
<rect x="442.85" y="509.68" width="7.88" height="7.90" fill="#353caa"/>
<rect x="458.02" y="509.68" width="7.58" height="7.90" fill="#1389d3"/>
<rect x="86.40" y="502.08" width="7.88" height="7.90" fill="#06a4ca"/>
<rect x="93.98" y="502.08" width="7.88" height="7.90" fill="#352d8c"/>
<rect x="101.57" y="502.08" width="7.88" height="7.90" fill="#2f47c0"/>
<rect x="116.74" y="502.08" width="7.88" height="7.90" fill="#36339a"/>
<rect x="427.68" y="502.08" width="7.88" height="7.90" fill="#36339a"/>
<rect x="442.85" y="502.08" width="7.88" height="7.90" fill="#2f47c0"/>
<rect x="450.43" y="502.08" width="7.88" height="7.90" fill="#352d8c"/>
<rect x="458.02" y="502.08" width="7.58" height="7.90" fill="#06a4ca"/>
<rect x="86.40" y="494.49" width="7.88" height="7.90" fill="#0998d1"/>
<rect x="93.98" y="494.49" width="7.88" height="7.90" fill="#352d8c"/>
<rect x="101.57" y="494.49" width="7.88" height="7.90" fill="#363093"/>
<rect x="442.85" y="494.49" width="7.88" height="7.90" fill="#363093"/>
<rect x="450.43" y="494.49" width="7.88" height="7.90" fill="#352d8c"/>
<rect x="458.02" y="494.49" width="7.58" height="7.90" fill="#0998d1"/>
<rect x="86.40" y="486.89" width="7.88" height="7.90" fill="#65be86"/>
<rect x="93.98" y="486.89" width="7.88" height="7.90" fill="#352d8c"/>
<rect x="101.57" y="486.89" width="7.88" height="7.90" fill="#0363e1"/>
<rect x="116.74" y="486.89" width="7.88" height="7.90" fill="#3243ba"/>
<rect x="131.90" y="486.89" width="7.88" height="7.90" fill="#36339a"/>
<rect x="412.51" y="486.89" width="7.88" height="7.90" fill="#36339a"/>
<rect x="427.68" y="486.89" width="7.88" height="7.90" fill="#3243ba"/>
<rect x="442.85" y="486.89" width="7.88" height="7.90" fill="#0363e1"/>
<rect x="450.43" y="486.89" width="7.88" height="7.90" fill="#352d8c"/>
<rect x="458.02" y="486.89" width="7.58" height="7.90" fill="#65be86"/>
<rect x="86.40" y="479.30" width="7.88" height="7.90" fill="#046de0"/>
<rect x="93.98" y="479.30" width="7.88" height="7.90" fill="#352d8c"/>
<rect x="101.57" y="479.30" width="7.88" height="7.90" fill="#352d8c"/>
<rect x="109.15" y="479.30" width="7.88" height="7.90" fill="#352c8b"/>
<rect x="435.26" y="479.30" width="7.88" height="7.90" fill="#352c8b"/>
<rect x="442.85" y="479.30" width="7.88" height="7.90" fill="#352d8c"/>
<rect x="450.43" y="479.30" width="7.88" height="7.90" fill="#352d8c"/>
<rect x="458.02" y="479.30" width="7.58" height="7.90" fill="#046de0"/>
<rect x="86.40" y="471.70" width="7.88" height="7.90" fill="#f9fb0e"/>
<rect x="93.98" y="471.70" width="7.88" height="7.90" fill="#2c4ac7"/>
<rect x="101.57" y="471.70" width="7.88" height="7.90" fill="#1db3af"/>
<rect x="109.15" y="471.70" width="7.88" height="7.90" fill="#0f5cdd"/>
<rect x="116.74" y="471.70" width="7.88" height="7.90" fill="#1389d3"/>
<rect x="124.32" y="471.70" width="7.88" height="7.90" fill="#0f5cdd"/>
<rect x="131.90" y="471.70" width="7.88" height="7.90" fill="#0363e1"/>
<rect x="139.49" y="471.70" width="7.88" height="7.90" fill="#2053d4"/>
<rect x="147.07" y="471.70" width="7.88" height="7.90" fill="#2053d4"/>
<rect x="154.66" y="471.70" width="7.88" height="7.90" fill="#2f47c0"/>
<rect x="162.24" y="471.70" width="7.88" height="7.90" fill="#2f47c0"/>
<rect x="169.82" y="471.70" width="7.88" height="7.90" fill="#3243ba"/>
<rect x="177.41" y="471.70" width="7.88" height="7.90" fill="#3440b3"/>
<rect x="184.99" y="471.70" width="7.88" height="7.90" fill="#3440b3"/>
<rect x="192.58" y="471.70" width="7.88" height="7.90" fill="#353dad"/>
<rect x="200.16" y="471.70" width="7.88" height="7.90" fill="#353dad"/>
<rect x="207.74" y="471.70" width="7.88" height="7.90" fill="#363aa6"/>
<rect x="215.33" y="471.70" width="7.88" height="7.90" fill="#363093"/>
<rect x="222.91" y="471.70" width="7.88" height="7.90" fill="#362f91"/>
<rect x="230.50" y="471.70" width="7.88" height="7.90" fill="#362d8d"/>
<rect x="238.08" y="471.70" width="7.88" height="7.90" fill="#352c8b"/>
<rect x="306.34" y="471.70" width="7.88" height="7.90" fill="#352c8b"/>
<rect x="313.92" y="471.70" width="7.88" height="7.90" fill="#362d8d"/>
<rect x="321.50" y="471.70" width="7.88" height="7.90" fill="#362f91"/>
<rect x="329.09" y="471.70" width="7.88" height="7.90" fill="#363093"/>
<rect x="336.67" y="471.70" width="7.88" height="7.90" fill="#363aa6"/>
<rect x="344.26" y="471.70" width="7.88" height="7.90" fill="#353dad"/>
<rect x="351.84" y="471.70" width="7.88" height="7.90" fill="#353dad"/>
<rect x="359.42" y="471.70" width="7.88" height="7.90" fill="#3440b3"/>
<rect x="367.01" y="471.70" width="7.88" height="7.90" fill="#3440b3"/>
<rect x="374.59" y="471.70" width="7.88" height="7.90" fill="#3243ba"/>
<rect x="382.18" y="471.70" width="7.88" height="7.90" fill="#2f47c0"/>
<rect x="389.76" y="471.70" width="7.88" height="7.90" fill="#2f47c0"/>
<rect x="397.34" y="471.70" width="7.88" height="7.90" fill="#2053d4"/>
<rect x="404.93" y="471.70" width="7.88" height="7.90" fill="#2053d4"/>
<rect x="412.51" y="471.70" width="7.88" height="7.90" fill="#0363e1"/>
<rect x="420.10" y="471.70" width="7.88" height="7.90" fill="#0f5cdd"/>
<rect x="427.68" y="471.70" width="7.88" height="7.90" fill="#1389d3"/>
<rect x="435.26" y="471.70" width="7.88" height="7.90" fill="#0f5cdd"/>
<rect x="442.85" y="471.70" width="7.88" height="7.90" fill="#1db3af"/>
<rect x="450.43" y="471.70" width="7.88" height="7.90" fill="#2c4ac7"/>
<rect x="458.02" y="471.70" width="7.58" height="7.90" fill="#f9fb0e"/>
<rect x="134.3" y="514.0" width="284.6" height="283.8" fill="#fff"/>
<rect x="171.00" y="534.50" width="232.50" height="232.00" fill="#fff" stroke="#c8c8c8" stroke-width="1"/>
<line x1="200.06" y1="766.50" x2="200.06" y2="764.00" stroke="#a0a0a0" stroke-width="0.8"/>
<line x1="200.06" y1="534.50" x2="200.06" y2="537.00" stroke="#a0a0a0" stroke-width="0.8"/>
<line x1="277.56" y1="766.50" x2="277.56" y2="764.00" stroke="#a0a0a0" stroke-width="0.8"/>
<line x1="277.56" y1="534.50" x2="277.56" y2="537.00" stroke="#a0a0a0" stroke-width="0.8"/>
<line x1="355.06" y1="766.50" x2="355.06" y2="764.00" stroke="#a0a0a0" stroke-width="0.8"/>
<line x1="355.06" y1="534.50" x2="355.06" y2="537.00" stroke="#a0a0a0" stroke-width="0.8"/>
<line x1="171.00" y1="743.30" x2="173.50" y2="743.30" stroke="#a0a0a0" stroke-width="0.8"/>
<line x1="403.50" y1="743.30" x2="401.00" y2="743.30" stroke="#a0a0a0" stroke-width="0.8"/>
<line x1="171.00" y1="696.90" x2="173.50" y2="696.90" stroke="#a0a0a0" stroke-width="0.8"/>
<line x1="403.50" y1="696.90" x2="401.00" y2="696.90" stroke="#a0a0a0" stroke-width="0.8"/>
<line x1="171.00" y1="650.50" x2="173.50" y2="650.50" stroke="#a0a0a0" stroke-width="0.8"/>
<line x1="403.50" y1="650.50" x2="401.00" y2="650.50" stroke="#a0a0a0" stroke-width="0.8"/>
<line x1="171.00" y1="604.10" x2="173.50" y2="604.10" stroke="#a0a0a0" stroke-width="0.8"/>
<line x1="403.50" y1="604.10" x2="401.00" y2="604.10" stroke="#a0a0a0" stroke-width="0.8"/>
<line x1="171.00" y1="557.70" x2="173.50" y2="557.70" stroke="#a0a0a0" stroke-width="0.8"/>
<line x1="403.50" y1="557.70" x2="401.00" y2="557.70" stroke="#a0a0a0" stroke-width="0.8"/>
<text x="168.50" y="566.10" class="tk" font-size="18.5" text-anchor="end">0.4</text>
<text x="168.50" y="612.50" class="tk" font-size="18.5" text-anchor="end">0.2</text>
<text x="168.50" y="658.90" class="tk" font-size="18.5" text-anchor="end">0</text>
<text x="168.50" y="705.30" class="tk" font-size="18.5" text-anchor="end">-0.2</text>
<text x="168.50" y="751.70" class="tk" font-size="18.5" text-anchor="end">-0.4</text>
<text x="200.06" y="783.70" class="tk" font-size="18.5" text-anchor="middle">4996</text>
<text x="277.56" y="783.70" class="tk" font-size="18.5" text-anchor="middle">5000</text>
<text x="355.06" y="783.70" class="tk" font-size="18.5" text-anchor="middle">5004</text>
<text x="136.4" y="656.7" class="it" font-size="18.5">E</text>
<circle cx="180.69" cy="693.19" r="2.30" fill="#0a10ee"/>
<circle cx="200.06" cy="693.19" r="2.30" fill="#0a10ee"/>
<circle cx="219.44" cy="691.80" r="2.30" fill="#0a10ee"/>
<circle cx="238.81" cy="691.10" r="2.30" fill="#0a10ee"/>
<circle cx="258.19" cy="650.50" r="2.30" fill="#0a10ee"/>
<circle cx="277.56" cy="650.50" r="2.30" fill="#0a10ee"/>
<circle cx="296.94" cy="650.50" r="2.30" fill="#0a10ee"/>
<circle cx="316.31" cy="650.50" r="2.30" fill="#0a10ee"/>
<circle cx="335.69" cy="610.36" r="2.30" fill="#0a10ee"/>
<circle cx="355.06" cy="609.20" r="2.30" fill="#0a10ee"/>
<circle cx="374.44" cy="608.04" r="2.30" fill="#0a10ee"/>
<circle cx="393.81" cy="607.81" r="2.30" fill="#0a10ee"/>
<defs><linearGradient id="cbc" x1="0" y1="0" x2="0" y2="1"><stop offset="0.0000" stop-color="#f9fb0e"/><stop offset="0.0159" stop-color="#f6f313"/><stop offset="0.0317" stop-color="#f5eb18"/><stop offset="0.0476" stop-color="#f5e41d"/><stop offset="0.0635" stop-color="#f5de21"/><stop offset="0.0794" stop-color="#f7d826"/><stop offset="0.0952" stop-color="#fad32a"/><stop offset="0.1111" stop-color="#fcce2e"/><stop offset="0.1270" stop-color="#fec832"/><stop offset="0.1429" stop-color="#ffc337"/><stop offset="0.1587" stop-color="#fdbe3d"/><stop offset="0.1746" stop-color="#f8bb44"/><stop offset="0.1905" stop-color="#f1b94a"/><stop offset="0.2063" stop-color="#e9b94e"/><stop offset="0.2222" stop-color="#e1b952"/><stop offset="0.2381" stop-color="#d9ba56"/><stop offset="0.2540" stop-color="#d1bb59"/><stop offset="0.2698" stop-color="#c8bc5d"/><stop offset="0.2857" stop-color="#c0bc60"/><stop offset="0.3016" stop-color="#b7bd64"/><stop offset="0.3175" stop-color="#aebe67"/><stop offset="0.3333" stop-color="#a5be6b"/><stop offset="0.3492" stop-color="#9cbf6f"/><stop offset="0.3651" stop-color="#92bf73"/><stop offset="0.3810" stop-color="#87bf77"/><stop offset="0.3968" stop-color="#7cbf7b"/><stop offset="0.4127" stop-color="#71bf80"/><stop offset="0.4286" stop-color="#65be86"/><stop offset="0.4444" stop-color="#59bd8c"/><stop offset="0.4603" stop-color="#4dbc92"/><stop offset="0.4762" stop-color="#42bb98"/><stop offset="0.4921" stop-color="#38b99e"/><stop offset="0.5079" stop-color="#2eb7a4"/><stop offset="0.5238" stop-color="#25b5a9"/><stop offset="0.5397" stop-color="#1db3af"/><stop offset="0.5556" stop-color="#15b1b4"/><stop offset="0.5714" stop-color="#0faeb9"/><stop offset="0.5873" stop-color="#0aacbe"/><stop offset="0.6032" stop-color="#07a9c2"/><stop offset="0.6190" stop-color="#06a7c6"/><stop offset="0.6349" stop-color="#06a4ca"/><stop offset="0.6508" stop-color="#06a0cd"/><stop offset="0.6667" stop-color="#079ccf"/><stop offset="0.6825" stop-color="#0998d1"/><stop offset="0.6984" stop-color="#0c93d2"/><stop offset="0.7143" stop-color="#108ed2"/><stop offset="0.7302" stop-color="#1389d3"/><stop offset="0.7460" stop-color="#1485d4"/><stop offset="0.7619" stop-color="#1481d6"/><stop offset="0.7778" stop-color="#127dd8"/><stop offset="0.7937" stop-color="#1079da"/><stop offset="0.8095" stop-color="#0d75dc"/><stop offset="0.8254" stop-color="#0871de"/><stop offset="0.8413" stop-color="#046de0"/><stop offset="0.8571" stop-color="#0268e1"/><stop offset="0.8730" stop-color="#0363e1"/><stop offset="0.8889" stop-color="#0f5cdd"/><stop offset="0.9048" stop-color="#2053d4"/><stop offset="0.9206" stop-color="#2c4ac7"/><stop offset="0.9365" stop-color="#3243ba"/><stop offset="0.9524" stop-color="#353dad"/><stop offset="0.9683" stop-color="#3637a0"/><stop offset="0.9841" stop-color="#363093"/><stop offset="1.0000" stop-color="#352a87"/></linearGradient></defs>
<rect x="481.40" y="472.00" width="14.00" height="380.00" fill="url(#cbc)" stroke="#b0b0b0" stroke-width="0.6"/>
<line x1="492.90" y1="801.67" x2="495.40" y2="801.67" stroke="#555" stroke-width="0.8"/>
<text x="503.00" y="811.27" class="tk" font-size="27">0.01</text>
<line x1="492.90" y1="701.01" x2="495.40" y2="701.01" stroke="#555" stroke-width="0.8"/>
<text x="503.00" y="710.61" class="tk" font-size="27">0.03</text>
<line x1="492.90" y1="600.34" x2="495.40" y2="600.34" stroke="#555" stroke-width="0.8"/>
<text x="503.00" y="609.94" class="tk" font-size="27">0.05</text>
<line x1="492.90" y1="499.68" x2="495.40" y2="499.68" stroke="#555" stroke-width="0.8"/>
<text x="503.00" y="509.28" class="tk" font-size="27">0.07</text>
<text x="253.3" y="510" class="wt" font-size="46.5">IV</text>
<text x="101.6" y="649.1" class="wt" font-size="46.5">I</text>
<text x="417.5" y="642" class="wt" font-size="46.5">III</text>
<text x="263" y="839.7" class="wt" font-size="46.5">II</text>
<text x="-2" y="479" class="pl" font-size="41.5">(c)</text>
<text x="51" y="481" class="tk" font-size="28">50</text>
<text x="65.5" y="860.5" class="tk" font-size="27">0</text>
<text x="78" y="881" class="tk" font-size="27">0</text>
<text x="449.5" y="881.5" class="tk" font-size="28">50</text>
<text x="44" y="645.5" class="it" font-size="46">y</text>
<text x="268" y="885.3" class="it" font-size="46">x</text>
<rect x="646.00" y="18.90" width="368.20" height="368.60" fill="#fff" stroke="#c8c8c8" stroke-width="1"/>
<line x1="692.02" y1="387.50" x2="692.02" y2="384.00" stroke="#a0a0a0" stroke-width="0.8"/>
<line x1="692.02" y1="18.90" x2="692.02" y2="22.40" stroke="#a0a0a0" stroke-width="0.8"/>
<line x1="814.76" y1="387.50" x2="814.76" y2="384.00" stroke="#a0a0a0" stroke-width="0.8"/>
<line x1="814.76" y1="18.90" x2="814.76" y2="22.40" stroke="#a0a0a0" stroke-width="0.8"/>
<line x1="937.49" y1="387.50" x2="937.49" y2="384.00" stroke="#a0a0a0" stroke-width="0.8"/>
<line x1="937.49" y1="18.90" x2="937.49" y2="22.40" stroke="#a0a0a0" stroke-width="0.8"/>
<line x1="646.00" y1="350.64" x2="649.50" y2="350.64" stroke="#a0a0a0" stroke-width="0.8"/>
<line x1="1014.20" y1="350.64" x2="1010.70" y2="350.64" stroke="#a0a0a0" stroke-width="0.8"/>
<line x1="646.00" y1="276.92" x2="649.50" y2="276.92" stroke="#a0a0a0" stroke-width="0.8"/>
<line x1="1014.20" y1="276.92" x2="1010.70" y2="276.92" stroke="#a0a0a0" stroke-width="0.8"/>
<line x1="646.00" y1="203.20" x2="649.50" y2="203.20" stroke="#a0a0a0" stroke-width="0.8"/>
<line x1="1014.20" y1="203.20" x2="1010.70" y2="203.20" stroke="#a0a0a0" stroke-width="0.8"/>
<line x1="646.00" y1="129.48" x2="649.50" y2="129.48" stroke="#a0a0a0" stroke-width="0.8"/>
<line x1="1014.20" y1="129.48" x2="1010.70" y2="129.48" stroke="#a0a0a0" stroke-width="0.8"/>
<line x1="646.00" y1="55.76" x2="649.50" y2="55.76" stroke="#a0a0a0" stroke-width="0.8"/>
<line x1="1014.20" y1="55.76" x2="1010.70" y2="55.76" stroke="#a0a0a0" stroke-width="0.8"/>
<text x="642.70" y="67.16" class="tk" font-size="31.0" text-anchor="end">0.4</text>
<text x="642.70" y="140.88" class="tk" font-size="31.0" text-anchor="end">0.2</text>
<text x="642.70" y="214.60" class="tk" font-size="31.0" text-anchor="end">0</text>
<text x="642.70" y="288.32" class="tk" font-size="31.0" text-anchor="end">-0.2</text>
<text x="642.70" y="362.04" class="tk" font-size="31.0" text-anchor="end">-0.4</text>
<text x="692.02" y="415.10" class="tk" font-size="30.5" text-anchor="middle">4996</text>
<text x="813.26" y="415.10" class="tk" font-size="30.5" text-anchor="middle">5000</text>
<text x="933.49" y="415.10" class="tk" font-size="30.5" text-anchor="middle">5004</text>
<text x="816.7" y="447" class="tk" font-size="30" text-anchor="middle">State index</text>
<text x="581" y="189.3" class="it" font-size="35.5">E</text>
<text x="577" y="31.7" class="pl" font-size="41.5">(b)</text>
<circle cx="661.34" cy="273.23" r="3.30" fill="#ff1a1a"/>
<circle cx="692.02" cy="272.87" r="3.30" fill="#ff1a1a"/>
<circle cx="722.71" cy="272.31" r="3.30" fill="#ff1a1a"/>
<circle cx="753.39" cy="272.72" r="3.30" fill="#ff1a1a"/>
<circle cx="784.08" cy="203.20" r="3.30" fill="#ff1a1a"/>
<circle cx="814.76" cy="203.20" r="3.30" fill="#ff1a1a"/>
<circle cx="845.44" cy="203.20" r="3.30" fill="#ff1a1a"/>
<circle cx="876.12" cy="203.20" r="3.30" fill="#ff1a1a"/>
<circle cx="906.81" cy="132.80" r="3.30" fill="#ff1a1a"/>
<circle cx="937.49" cy="132.80" r="3.30" fill="#ff1a1a"/>
<circle cx="968.18" cy="133.53" r="3.30" fill="#ff1a1a"/>
<circle cx="998.86" cy="133.17" r="3.30" fill="#ff1a1a"/>
<rect x="658.34" y="272.08" width="6.00" height="6.00" fill="#0000ff"/>
<rect x="689.02" y="272.08" width="6.00" height="6.00" fill="#0000ff"/>
<rect x="719.71" y="265.81" width="6.00" height="6.00" fill="#0000ff"/>
<rect x="750.39" y="265.81" width="6.00" height="6.00" fill="#0000ff"/>
<rect x="781.08" y="200.20" width="6.00" height="6.00" fill="#0000ff"/>
<rect x="811.76" y="200.20" width="6.00" height="6.00" fill="#0000ff"/>
<rect x="842.44" y="200.20" width="6.00" height="6.00" fill="#0000ff"/>
<rect x="873.12" y="200.20" width="6.00" height="6.00" fill="#0000ff"/>
<rect x="903.81" y="132.38" width="6.00" height="6.00" fill="#0000ff"/>
<rect x="934.49" y="132.38" width="6.00" height="6.00" fill="#0000ff"/>
<rect x="965.18" y="127.95" width="6.00" height="6.00" fill="#0000ff"/>
<rect x="995.86" y="126.66" width="6.00" height="6.00" fill="#0000ff"/>
<polygon points="661.34,269.07 665.14,272.87 661.34,276.67 657.54,272.87" fill="#00ff00"/>
<polygon points="692.02,267.22 695.82,271.02 692.02,274.82 688.23,271.02" fill="#00ff00"/>
<polygon points="722.71,264.27 726.51,268.07 722.71,271.87 718.91,268.07" fill="#00ff00"/>
<polygon points="753.39,263.90 757.19,267.70 753.39,271.50 749.59,267.70" fill="#00ff00"/>
<polygon points="784.08,199.40 787.88,203.20 784.08,207.00 780.28,203.20" fill="#00ff00"/>
<polygon points="814.76,198.29 818.56,202.09 814.76,205.89 810.96,202.09" fill="#00ff00"/>
<polygon points="845.44,199.40 849.24,203.20 845.44,207.00 841.64,203.20" fill="#00ff00"/>
<polygon points="876.12,199.40 879.92,203.20 876.12,207.00 872.33,203.20" fill="#00ff00"/>
<polygon points="906.81,133.05 910.61,136.85 906.81,140.65 903.01,136.85" fill="#00ff00"/>
<polygon points="937.49,133.05 941.29,136.85 937.49,140.65 933.69,136.85" fill="#00ff00"/>
<polygon points="968.18,130.84 971.98,134.64 968.18,138.44 964.38,134.64" fill="#00ff00"/>
<polygon points="998.86,129.00 1002.66,132.80 998.86,136.60 995.06,132.80" fill="#00ff00"/>
<polygon points="661.34,263.54 660.25,265.44 658.05,265.44 659.15,267.34 658.05,269.24 660.25,269.24 661.34,271.14 662.44,269.24 664.63,269.24 663.53,267.34 664.63,265.44 662.44,265.44" fill="#ff00ff"/>
<polygon points="692.02,262.06 690.93,263.96 688.73,263.96 689.83,265.86 688.73,267.76 690.93,267.76 692.02,269.66 693.12,267.76 695.32,267.76 694.22,265.86 695.32,263.96 693.12,263.96" fill="#ff00ff"/>
<polygon points="722.71,247.69 721.61,249.59 719.42,249.59 720.52,251.49 719.42,253.39 721.61,253.39 722.71,255.29 723.80,253.39 726.00,253.39 724.90,251.49 726.00,249.59 723.80,249.59" fill="#ff00ff"/>
<polygon points="753.39,246.58 752.30,248.48 750.10,248.48 751.20,250.38 750.10,252.28 752.30,252.28 753.39,254.18 754.49,252.28 756.68,252.28 755.58,250.38 756.68,248.48 754.49,248.48" fill="#ff00ff"/>
<polygon points="784.08,201.61 782.98,203.51 780.78,203.51 781.88,205.41 780.78,207.31 782.98,207.31 784.08,209.21 785.17,207.31 787.37,207.31 786.27,205.41 787.37,203.51 785.17,203.51" fill="#ff00ff"/>
<polygon points="814.76,200.14 813.66,202.04 811.47,202.04 812.57,203.94 811.47,205.84 813.66,205.84 814.76,207.74 815.85,205.84 818.05,205.84 816.95,203.94 818.05,202.04 815.85,202.04" fill="#ff00ff"/>
<polygon points="845.44,197.93 844.35,199.83 842.15,199.83 843.25,201.73 842.15,203.63 844.35,203.62 845.44,205.53 846.54,203.62 848.73,203.63 847.63,201.73 848.73,199.83 846.54,199.83" fill="#ff00ff"/>
<polygon points="876.12,196.45 875.03,198.35 872.83,198.35 873.93,200.25 872.83,202.15 875.03,202.15 876.12,204.05 877.22,202.15 879.42,202.15 878.32,200.25 879.42,198.35 877.22,198.35" fill="#ff00ff"/>
<polygon points="906.81,151.11 905.71,153.01 903.52,153.01 904.62,154.91 903.52,156.81 905.71,156.81 906.81,158.71 907.90,156.81 910.10,156.81 909.00,154.91 910.10,153.01 907.90,153.01" fill="#ff00ff"/>
<polygon points="937.49,150.01 936.40,151.91 934.20,151.91 935.30,153.81 934.20,155.71 936.40,155.71 937.49,157.61 938.59,155.71 940.78,155.71 939.68,153.81 940.78,151.91 938.59,151.91" fill="#ff00ff"/>
<polygon points="968.18,135.26 967.08,137.16 964.88,137.16 965.98,139.06 964.88,140.96 967.08,140.96 968.18,142.86 969.27,140.96 971.47,140.96 970.37,139.06 971.47,137.16 969.27,137.16" fill="#ff00ff"/>
<polygon points="998.86,133.79 997.76,135.69 995.57,135.69 996.67,137.59 995.57,139.49 997.76,139.49 998.86,141.39 999.95,139.49 1002.15,139.49 1001.05,137.59 1002.15,135.69 999.95,135.69" fill="#ff00ff"/>
<circle cx="672.40" cy="38.60" r="7.80" fill="#ff1a1a"/>
<text x="683.5" y="47.10" class="lg" font-size="26.5"><tspan font-style="italic">&#956;</tspan>=0</text>
<rect x="664.90" y="57.00" width="15.00" height="15.00" fill="#0000ff"/>
<text x="683.5" y="73.00" class="lg" font-size="26.5"><tspan font-style="italic">&#956;</tspan>=0.1</text>
<polygon points="672.40,82.60 680.20,90.40 672.40,98.20 664.60,90.40" fill="#00ff00"/>
<text x="683.5" y="98.90" class="lg" font-size="26.5"><tspan font-style="italic">&#956;</tspan>=0.3</text>
<polygon points="672.40,109.80 670.18,113.65 665.73,113.65 667.96,117.50 665.73,121.35 670.18,121.35 672.40,125.20 674.62,121.35 679.07,121.35 676.84,117.50 679.07,113.65 674.62,113.65" fill="#ff00ff"/>
<text x="683.5" y="126.00" class="lg" font-size="26.5"><tspan font-style="italic">&#956;</tspan>=0.5</text>
<rect x="648.30" y="472.20" width="369.10" height="368.40" fill="#fff" stroke="#c8c8c8" stroke-width="1"/>
<line x1="694.44" y1="840.60" x2="694.44" y2="837.10" stroke="#a0a0a0" stroke-width="0.8"/>
<line x1="694.44" y1="472.20" x2="694.44" y2="475.70" stroke="#a0a0a0" stroke-width="0.8"/>
<line x1="817.47" y1="840.60" x2="817.47" y2="837.10" stroke="#a0a0a0" stroke-width="0.8"/>
<line x1="817.47" y1="472.20" x2="817.47" y2="475.70" stroke="#a0a0a0" stroke-width="0.8"/>
<line x1="940.50" y1="840.60" x2="940.50" y2="837.10" stroke="#a0a0a0" stroke-width="0.8"/>
<line x1="940.50" y1="472.20" x2="940.50" y2="475.70" stroke="#a0a0a0" stroke-width="0.8"/>
<line x1="648.30" y1="803.76" x2="651.80" y2="803.76" stroke="#a0a0a0" stroke-width="0.8"/>
<line x1="1017.40" y1="803.76" x2="1013.90" y2="803.76" stroke="#a0a0a0" stroke-width="0.8"/>
<line x1="648.30" y1="730.08" x2="651.80" y2="730.08" stroke="#a0a0a0" stroke-width="0.8"/>
<line x1="1017.40" y1="730.08" x2="1013.90" y2="730.08" stroke="#a0a0a0" stroke-width="0.8"/>
<line x1="648.30" y1="656.40" x2="651.80" y2="656.40" stroke="#a0a0a0" stroke-width="0.8"/>
<line x1="1017.40" y1="656.40" x2="1013.90" y2="656.40" stroke="#a0a0a0" stroke-width="0.8"/>
<line x1="648.30" y1="582.72" x2="651.80" y2="582.72" stroke="#a0a0a0" stroke-width="0.8"/>
<line x1="1017.40" y1="582.72" x2="1013.90" y2="582.72" stroke="#a0a0a0" stroke-width="0.8"/>
<line x1="648.30" y1="509.04" x2="651.80" y2="509.04" stroke="#a0a0a0" stroke-width="0.8"/>
<line x1="1017.40" y1="509.04" x2="1013.90" y2="509.04" stroke="#a0a0a0" stroke-width="0.8"/>
<text x="642.40" y="519.24" class="tk" font-size="31.0" text-anchor="end">0.4</text>
<text x="642.40" y="592.92" class="tk" font-size="31.0" text-anchor="end">0.2</text>
<text x="642.40" y="666.60" class="tk" font-size="31.0" text-anchor="end">0</text>
<text x="642.40" y="740.28" class="tk" font-size="31.0" text-anchor="end">-0.2</text>
<text x="642.40" y="813.96" class="tk" font-size="31.0" text-anchor="end">-0.4</text>
<text x="692.94" y="868.80" class="tk" font-size="30.5" text-anchor="middle">4996</text>
<text x="815.97" y="868.80" class="tk" font-size="30.5" text-anchor="middle">5000</text>
<text x="939.00" y="868.80" class="tk" font-size="30.5" text-anchor="middle">5004</text>
<text x="815.7" y="901.5" class="tk" font-size="30" text-anchor="middle">State index</text>
<text x="581.5" y="639.3" class="it" font-size="35.5">E</text>
<text x="574.5" y="480" class="pl" font-size="41.5">(d)</text>
<circle cx="663.68" cy="728.24" r="3.30" fill="#00ffff"/>
<circle cx="694.44" cy="728.24" r="3.30" fill="#00ffff"/>
<circle cx="725.20" cy="727.87" r="3.30" fill="#00ffff"/>
<circle cx="755.95" cy="727.50" r="3.30" fill="#00ffff"/>
<circle cx="786.71" cy="656.40" r="3.30" fill="#00ffff"/>
<circle cx="817.47" cy="656.40" r="3.30" fill="#00ffff"/>
<circle cx="848.23" cy="656.40" r="3.30" fill="#00ffff"/>
<circle cx="878.99" cy="656.40" r="3.30" fill="#00ffff"/>
<circle cx="909.75" cy="586.04" r="3.30" fill="#00ffff"/>
<circle cx="940.50" cy="586.04" r="3.30" fill="#00ffff"/>
<circle cx="971.26" cy="586.04" r="3.30" fill="#00ffff"/>
<circle cx="1002.02" cy="586.40" r="3.30" fill="#00ffff"/>
<rect x="660.68" y="723.40" width="6.00" height="6.00" fill="#ff0000"/>
<rect x="691.44" y="723.76" width="6.00" height="6.00" fill="#ff0000"/>
<rect x="722.20" y="723.03" width="6.00" height="6.00" fill="#ff0000"/>
<rect x="752.95" y="721.92" width="6.00" height="6.00" fill="#ff0000"/>
<rect x="783.71" y="653.40" width="6.00" height="6.00" fill="#ff0000"/>
<rect x="814.47" y="653.40" width="6.00" height="6.00" fill="#ff0000"/>
<rect x="845.23" y="653.40" width="6.00" height="6.00" fill="#ff0000"/>
<rect x="875.99" y="653.40" width="6.00" height="6.00" fill="#ff0000"/>
<rect x="906.75" y="585.25" width="6.00" height="6.00" fill="#ff0000"/>
<rect x="937.50" y="584.51" width="6.00" height="6.00" fill="#ff0000"/>
<rect x="968.26" y="584.51" width="6.00" height="6.00" fill="#ff0000"/>
<rect x="999.02" y="583.40" width="6.00" height="6.00" fill="#ff0000"/>
<polygon points="663.68,720.85 662.61,722.71 660.47,722.70 661.54,724.55 660.47,726.40 662.61,726.40 663.68,728.25 664.75,726.40 666.88,726.40 665.81,724.55 666.88,722.70 664.75,722.71" fill="#0000ff"/>
<polygon points="694.44,720.12 693.37,721.97 691.23,721.97 692.30,723.82 691.23,725.67 693.37,725.67 694.44,727.52 695.50,725.67 697.64,725.67 696.57,723.82 697.64,721.97 695.50,721.97" fill="#0000ff"/>
<polygon points="725.20,719.75 724.13,721.60 721.99,721.60 723.06,723.45 721.99,725.30 724.13,725.30 725.20,727.15 726.26,725.30 728.40,725.30 727.33,723.45 728.40,721.60 726.26,721.60" fill="#0000ff"/>
<polygon points="755.95,717.17 754.89,719.02 752.75,719.02 753.82,720.87 752.75,722.72 754.89,722.72 755.95,724.57 757.02,722.72 759.16,722.72 758.09,720.87 759.16,719.02 757.02,719.02" fill="#0000ff"/>
<polygon points="786.71,652.70 785.65,654.55 783.51,654.55 784.58,656.40 783.51,658.25 785.65,658.25 786.71,660.10 787.78,658.25 789.92,658.25 788.85,656.40 789.92,654.55 787.78,654.55" fill="#0000ff"/>
<polygon points="817.47,652.70 816.40,654.55 814.27,654.55 815.34,656.40 814.27,658.25 816.40,658.25 817.47,660.10 818.54,658.25 820.68,658.25 819.61,656.40 820.68,654.55 818.54,654.55" fill="#0000ff"/>
<polygon points="848.23,652.70 847.16,654.55 845.02,654.55 846.09,656.40 845.02,658.25 847.16,658.25 848.23,660.10 849.30,658.25 851.43,658.25 850.36,656.40 851.43,654.55 849.30,654.55" fill="#0000ff"/>
<polygon points="878.99,652.70 877.92,654.55 875.78,654.55 876.85,656.40 875.78,658.25 877.92,658.25 878.99,660.10 880.05,658.25 882.19,658.25 881.12,656.40 882.19,654.55 880.05,654.55" fill="#0000ff"/>
<polygon points="909.75,588.97 908.68,590.82 906.54,590.82 907.61,592.67 906.54,594.52 908.68,594.52 909.75,596.37 910.81,594.52 912.95,594.52 911.88,592.67 912.95,590.82 910.81,590.82" fill="#0000ff"/>
<polygon points="940.50,587.12 939.44,588.98 937.30,588.97 938.37,590.82 937.30,592.67 939.44,592.67 940.50,594.52 941.57,592.67 943.71,592.67 942.64,590.82 943.71,588.97 941.57,588.98" fill="#0000ff"/>
<polygon points="971.26,586.76 970.20,588.61 968.06,588.61 969.13,590.46 968.06,592.31 970.20,592.31 971.26,594.16 972.33,592.31 974.47,592.31 973.40,590.46 974.47,588.61 972.33,588.61" fill="#0000ff"/>
<polygon points="1002.02,585.28 1000.95,587.13 998.82,587.13 999.89,588.98 998.82,590.83 1000.95,590.83 1002.02,592.68 1003.09,590.83 1005.23,590.83 1004.16,588.98 1005.23,587.13 1003.09,587.13" fill="#0000ff"/>
<polygon points="663.68,717.54 667.38,721.24 663.68,724.94 659.98,721.24" fill="#00ff00"/>
<polygon points="694.44,717.17 698.14,720.87 694.44,724.57 690.74,720.87" fill="#00ff00"/>
<polygon points="725.20,714.59 728.90,718.29 725.20,721.99 721.50,718.29" fill="#00ff00"/>
<polygon points="755.95,711.28 759.65,714.98 755.95,718.68 752.25,714.98" fill="#00ff00"/>
<polygon points="786.71,651.96 790.41,655.66 786.71,659.36 783.01,655.66" fill="#00ff00"/>
<polygon points="817.47,652.70 821.17,656.40 817.47,660.10 813.77,656.40" fill="#00ff00"/>
<polygon points="848.23,651.96 851.93,655.66 848.23,659.36 844.53,655.66" fill="#00ff00"/>
<polygon points="878.99,651.96 882.69,655.66 878.99,659.36 875.29,655.66" fill="#00ff00"/>
<polygon points="909.75,594.86 913.45,598.56 909.75,602.26 906.05,598.56" fill="#00ff00"/>
<polygon points="940.50,591.18 944.20,594.88 940.50,598.58 936.80,594.88" fill="#00ff00"/>
<polygon points="971.26,588.23 974.96,591.93 971.26,595.63 967.56,591.93" fill="#00ff00"/>
<polygon points="1002.02,588.23 1005.72,591.93 1002.02,595.63 998.32,591.93" fill="#00ff00"/>
<polygon points="663.68,713.02 662.70,715.46 660.07,715.64 662.09,717.33 661.45,719.89 663.68,718.49 665.91,719.89 665.27,717.33 667.29,715.64 664.66,715.46" fill="#ee33ee"/>
<polygon points="694.44,712.65 693.45,715.10 690.82,715.27 692.85,716.97 692.20,719.52 694.44,718.12 696.67,719.52 696.03,716.97 698.05,715.27 695.42,715.10" fill="#ee33ee"/>
<polygon points="725.20,709.70 724.21,712.15 721.58,712.33 723.61,714.02 722.96,716.58 725.20,715.17 727.43,716.58 726.79,714.02 728.81,712.33 726.18,712.15" fill="#ee33ee"/>
<polygon points="755.95,704.54 754.97,706.99 752.34,707.17 754.36,708.86 753.72,711.42 755.95,710.02 758.19,711.42 757.54,708.86 759.57,707.17 756.94,706.99" fill="#ee33ee"/>
<polygon points="786.71,652.60 785.73,655.05 783.10,655.23 785.12,656.92 784.48,659.47 786.71,658.07 788.95,659.47 788.30,656.92 790.33,655.23 787.70,655.05" fill="#ee33ee"/>
<polygon points="817.47,652.60 816.49,655.05 813.86,655.23 815.88,656.92 815.24,659.47 817.47,658.07 819.70,659.47 819.06,656.92 821.08,655.23 818.45,655.05" fill="#ee33ee"/>
<polygon points="848.23,652.60 847.25,655.05 844.62,655.23 846.64,656.92 846.00,659.47 848.23,658.07 850.46,659.47 849.82,656.92 851.84,655.23 849.21,655.05" fill="#ee33ee"/>
<polygon points="878.99,652.60 878.00,655.05 875.37,655.23 877.40,656.92 876.75,659.47 878.99,658.07 881.22,659.47 880.58,656.92 882.60,655.23 879.97,655.05" fill="#ee33ee"/>
<polygon points="909.75,601.39 908.76,603.84 906.13,604.02 908.16,605.71 907.51,608.27 909.75,606.86 911.98,608.27 911.34,605.71 913.36,604.02 910.73,603.84" fill="#ee33ee"/>
<polygon points="940.50,596.60 939.52,599.05 936.89,599.23 938.91,600.92 938.27,603.48 940.50,602.08 942.74,603.48 942.09,600.92 944.12,599.23 941.49,599.05" fill="#ee33ee"/>
<polygon points="971.26,593.66 970.28,596.10 967.65,596.28 969.67,597.97 969.03,600.53 971.26,599.13 973.50,600.53 972.85,597.97 974.88,596.28 972.25,596.10" fill="#ee33ee"/>
<polygon points="1002.02,593.29 1001.04,595.73 998.41,595.91 1000.43,597.60 999.79,600.16 1002.02,598.76 1004.25,600.16 1003.61,597.60 1005.63,595.91 1003.00,595.73" fill="#ee33ee"/>
<polygon points="660.08,708.79 667.28,708.79 663.68,715.63" fill="#ff99cc"/>
<polygon points="690.84,707.68 698.04,707.68 694.44,714.52" fill="#ff99cc"/>
<polygon points="721.60,703.26 728.80,703.26 725.20,710.10" fill="#ff99cc"/>
<polygon points="752.35,698.10 759.55,698.10 755.95,704.94" fill="#ff99cc"/>
<polygon points="783.11,653.53 790.31,653.53 786.71,660.37" fill="#ff99cc"/>
<polygon points="813.87,653.53 821.07,653.53 817.47,660.37" fill="#ff99cc"/>
<polygon points="844.63,653.53 851.83,653.53 848.23,660.37" fill="#ff99cc"/>
<polygon points="875.39,653.53 882.59,653.53 878.99,660.37" fill="#ff99cc"/>
<polygon points="906.15,609.32 913.35,609.32 909.75,616.16" fill="#ff99cc"/>
<polygon points="936.90,604.16 944.10,604.16 940.50,611.00" fill="#ff99cc"/>
<polygon points="967.66,599.74 974.86,599.74 971.26,606.58" fill="#ff99cc"/>
<polygon points="998.42,598.64 1005.62,598.64 1002.02,605.48" fill="#ff99cc"/>
<circle cx="665.70" cy="491.00" r="6.50" fill="#00ffff"/>
<text x="676.5" y="496.00" class="lg2" font-size="23.5"><tspan font-style="italic">&#951;</tspan>=0</text>
<rect x="659.20" y="513.60" width="13.00" height="13.00" fill="#ff0000"/>
<text x="676.5" y="525.10" class="lg2" font-size="23.5"><tspan font-style="italic">&#951;</tspan>=0.1</text>
<polygon points="665.70,540.75 663.75,544.13 659.85,544.12 661.81,547.50 659.85,550.88 663.75,550.87 665.70,554.25 667.65,550.87 671.55,550.88 669.59,547.50 671.55,544.12 667.65,544.13" fill="#0000ff"/>
<text x="676.5" y="552.50" class="lg2" font-size="23.5"><tspan font-style="italic">&#951;</tspan>=0.2</text>
<polygon points="665.70,566.00 672.20,572.50 665.70,579.00 659.20,572.50" fill="#00ff00"/>
<text x="676.5" y="577.50" class="lg2" font-size="23.5"><tspan font-style="italic">&#951;</tspan>=0.3</text>
<polygon points="665.70,590.25 663.82,594.92 658.80,595.26 662.67,598.49 661.44,603.37 665.70,600.69 669.96,603.37 668.73,598.49 672.60,595.26 667.58,594.92" fill="#ee33ee" stroke="#888" stroke-width="0.80"/>
<text x="676.5" y="602.50" class="lg2" font-size="23.5"><tspan font-style="italic">&#951;</tspan>=0.4</text>
<polygon points="658.95,616.92 672.45,616.92 665.70,629.75" fill="#ff88cc" stroke="#888" stroke-width="0.80"/>
<text x="676.5" y="628.00" class="lg2" font-size="23.5"><tspan font-style="italic">&#951;</tspan>=0.5</text>
</svg>
</body></html>
